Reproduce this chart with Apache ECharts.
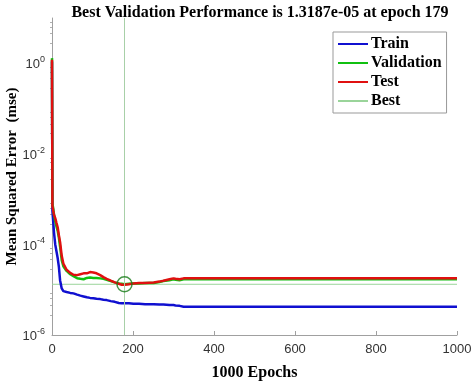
<!DOCTYPE html>
<html>
<head>
<meta charset="utf-8">
<script src="https://cdn.jsdelivr.net/npm/echarts@6/dist/echarts.min.js"></script>
<style>html,body{margin:0;padding:0;background:#fff}#c{width:474px;height:384px}</style>
</head>
<body>
<div id="c"></div>
<script>
const epochs = [0,1,3,5,8,11,14,17,20,24,28,36,45,53,62,70,78,86,94,102,110,119,127,135,145,155,165,172,179,190,201,215,230,251,265,275,290,300,305,309,315,325,350,400,465,500,600,700,800,900,1000];
const trainPerf = [1.1,5.6e-4,3.2e-4,1.8e-4,1.0e-4,7.1e-5,5.0e-5,3.2e-5,1.6e-5,1.07e-5,9.3e-6,8.9e-6,8.5e-6,8.3e-6,7.8e-6,7.4e-6,7.1e-6,6.8e-6,6.6e-6,6.5e-6,6.3e-6,6.2e-6,6.0e-6,5.9e-6,5.6e-6,5.4e-6,5.1e-6,5.0e-6,5.0e-6,5.0e-6,4.9e-6,4.9e-6,4.8e-6,4.8e-6,4.7e-6,4.7e-6,4.6e-6,4.6e-6,4.5e-6,4.5e-6,4.4e-6,4.2e-6,4.2e-6,4.2e-6,4.2e-6,4.2e-6,4.2e-6,4.2e-6,4.2e-6,4.2e-6,4.2e-6];
const valPerf = [1.3,7.9e-4,6.3e-4,4.5e-4,3.2e-4,2.5e-4,2.0e-4,1.4e-4,8.9e-5,4.5e-5,3.3e-5,2.6e-5,2.2e-5,2.0e-5,1.8e-5,1.74e-5,1.7e-5,1.82e-5,1.86e-5,1.82e-5,1.82e-5,1.78e-5,1.74e-5,1.66e-5,1.55e-5,1.45e-5,1.38e-5,1.35e-5,1.3187e-5,1.35e-5,1.38e-5,1.38e-5,1.41e-5,1.41e-5,1.48e-5,1.55e-5,1.62e-5,1.7e-5,1.66e-5,1.58e-5,1.62e-5,1.7e-5,1.7e-5,1.7e-5,1.7e-5,1.7e-5,1.7e-5,1.7e-5,1.7e-5,1.7e-5,1.7e-5];
const testPerf = [1.2,7.1e-4,5.6e-4,4.5e-4,3.8e-4,3.0e-4,2.4e-4,1.6e-4,1.12e-4,5.6e-5,3.8e-5,2.75e-5,2.35e-5,2.14e-5,2.1e-5,2.2e-5,2.3e-5,2.3e-5,2.45e-5,2.4e-5,2.3e-5,2.1e-5,1.9e-5,1.74e-5,1.58e-5,1.45e-5,1.35e-5,1.29e-5,1.29e-5,1.32e-5,1.38e-5,1.41e-5,1.41e-5,1.45e-5,1.51e-5,1.58e-5,1.7e-5,1.78e-5,1.74e-5,1.62e-5,1.7e-5,1.78e-5,1.8e-5,1.8e-5,1.8e-5,1.8e-5,1.8e-5,1.8e-5,1.8e-5,1.8e-5,1.8e-5];
const bestEpoch = 179;
const bestPerf = 1.3187e-5;
const xTicks = [0,200,400,600,800,1000];
const yTickExponents = [0,-2,-4,-6];

const pair = (vals) => epochs.map((e, i) => [e, vals[i]]);
const chart = echarts.init(document.getElementById('c'));
const serif = 'Liberation Serif';
const sans = 'Liberation Sans';
chart.setOption({
  animation: false,
  title: {
    text: 'Best Validation Performance is 1.3187e-05 at epoch 179',
    left: 255, top: 0, textAlign: 'center',
    textStyle: {fontFamily: serif, fontWeight: 'bold', fontSize: 16, color: '#000'}
  },
  grid: {left: 52, right: 17, top: 18, bottom: 49, containLabel: false, outerBoundsMode: 'none'},
  legend: {
    data: ['Train', 'Validation', 'Test', 'Best'],
    orient: 'vertical', left: 333, top: 32,
    itemWidth: 30, itemHeight: 10, itemGap: 3,
    padding: [4, 5, 4, 4],
    borderColor: '#999', borderWidth: 1, backgroundColor: '#fff',
    itemStyle: {opacity: 0},
    textStyle: {fontFamily: serif, fontWeight: 'bold', fontSize: 16, color: '#000', padding: [0,0,0,-2]}
  },
  xAxis: {
    type: 'value', min: 0, max: 1000, interval: 200,
    name: '1000 Epochs', nameLocation: 'middle', nameGap: 30, nameMoveOverlap: false,
    nameTextStyle: {fontFamily: serif, fontWeight: 'bold', fontSize: 16, color: '#000'},
    axisLine: {lineStyle: {color: '#a0a0a0'}},
    axisTick: {inside: true, length: 4, lineStyle: {color: '#a0a0a0'}},
    splitLine: {show: false},
    axisLabel: {fontFamily: sans, fontSize: 13, color: '#333', margin: 8,
      formatter: v => xTicks.includes(v) ? String(v) : ''}
  },
  yAxis: {
    type: 'log', logBase: 10, min: 1e-6, max: 10,
    name: 'Mean Squared Error  (mse)', nameLocation: 'middle', nameGap: 32, nameMoveOverlap: false,
    nameTextStyle: {fontFamily: serif, fontWeight: 'bold', fontSize: 15, color: '#000'},
    axisLine: {show: true, lineStyle: {color: '#a0a0a0'}},
    axisTick: {show: false},
    minorTick: {show: true, splitNumber: 5, length: 2, lineStyle: {color: '#b0b0b0'}},
    splitLine: {show: false},
    axisLabel: {
      color: '#333', margin: 7,
      formatter: v => {
        const e = Math.round(Math.log10(v));
        return yTickExponents.includes(e) ? '{b|10}{s|' + e + '}' : '';
      },
      rich: {
        b: {fontFamily: sans, fontSize: 13, color: '#333', verticalAlign: 'bottom'},
        s: {fontFamily: sans, fontSize: 9, color: '#333', verticalAlign: 'bottom', padding: [0,0,7,0]}
      }
    }
  },
  series: [
    {name: 'Best', type: 'line', data: [[0, bestPerf], [1000, bestPerf]], symbol: 'none',
      lineStyle: {color: '#9ad49a', width: 1}, itemStyle: {color: '#c8dcc8'},
      markLine: {symbol: 'none', silent: true, label: {show: false},
        lineStyle: {color: '#a8d0a8', width: 1, type: 'solid'}, data: [{xAxis: bestEpoch}]}},
    {name: 'Train', type: 'line', data: pair(trainPerf), symbol: 'none',
      lineStyle: {color: '#1010d0', width: 2.5}, itemStyle: {color: '#1010d0'}},
    {name: 'Validation', type: 'line', data: pair(valPerf), symbol: 'none',
      lineStyle: {color: '#10c010', width: 2.5}, itemStyle: {color: '#10c010'}},
    {name: 'Test', type: 'line', data: pair(testPerf), symbol: 'none',
      lineStyle: {color: '#e01010', width: 2.5}, itemStyle: {color: '#e01010'}},
    {name: 'circle', type: 'scatter', data: [[bestEpoch, bestPerf]], symbol: 'circle', symbolSize: 15,
      itemStyle: {color: 'rgba(0,0,0,0)', borderColor: '#157a15', borderWidth: 1.5}, z: 5}
  ]
});
</script>
</body>
</html>
